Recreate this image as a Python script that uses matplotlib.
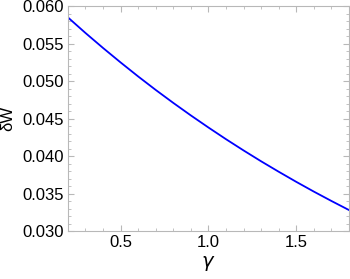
import numpy as np
import matplotlib
matplotlib.use("Agg")
import matplotlib.pyplot as plt
from matplotlib.ticker import MultipleLocator

# values
gamma = [0.2, 0.3, 0.4, 0.5, 0.6, 0.7, 0.8, 0.9, 1.0,
         1.1, 1.2, 1.3, 1.4, 1.5, 1.6, 1.7, 1.8]
dW = [0.05850, 0.05642, 0.05442, 0.05249, 0.05062, 0.04882, 0.04709,
      0.04542, 0.04381, 0.04225, 0.04075, 0.03930, 0.03791, 0.03656,
      0.03526, 0.03401, 0.03280]

plt.rcParams['font.family'] = ['Liberation Sans', 'DejaVu Sans']

fig = plt.figure(figsize=(3.5, 2.79), dpi=100)
ax = fig.add_axes([0.194, 0.172, 0.803, 0.806])

ax.plot(gamma, dW, color=(0, 0, 1), lw=1.3)

ax.set_xlim(0.2, 1.8)
ax.set_ylim(0.030, 0.060)
ax.xaxis.set_major_locator(MultipleLocator(0.5))
ax.xaxis.set_minor_locator(MultipleLocator(0.1))
ax.yaxis.set_major_locator(MultipleLocator(0.005))
ax.yaxis.set_minor_locator(MultipleLocator(0.001))
ax.yaxis.set_major_formatter(plt.FormatStrFormatter('%.3f'))
ax.xaxis.set_major_formatter(plt.FormatStrFormatter('%.1f'))

frame_col = '#b8b8b8'
for s in ax.spines.values():
    s.set_color(frame_col)
    s.set_linewidth(0.8)
ax.tick_params(which='both', direction='in', top=True, right=True,
               color=frame_col, labelsize=12, labelcolor='black')
ax.tick_params(which='major', length=4, width=0.8, pad=3)
ax.tick_params(which='minor', length=2.2, width=0.6)

ax.set_xlabel(r'$\gamma$', fontsize=14, labelpad=3)
ax.set_ylabel('δW', fontsize=12, labelpad=5)

fig.savefig('out.png', dpi=100)
